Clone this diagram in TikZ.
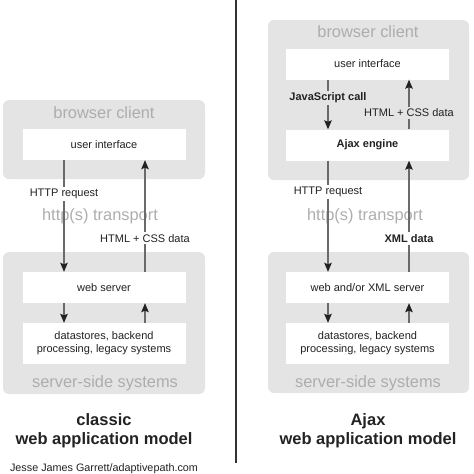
\documentclass[tikz,border=0pt]{standalone}
\usepackage{fontspec}
\setmainfont{Liberation Sans}
\usepackage{xcolor}
\usetikzlibrary{calc,positioning,arrows.meta}
\definecolor{color_panel}{HTML}{e4e4e4}
\definecolor{color_title}{HTML}{adadad}
\definecolor{color_line}{HTML}{6a6a6a}
\definecolor{color_text}{HTML}{222222}
\definecolor{color_divider}{HTML}{333333}

\tikzset{
	panel/.style={fill=color_panel, rounded corners=6pt},
	inbox/.style={fill=white, text=color_text, minimum width=163pt, minimum height=31pt, inner sep=0pt, align=center,
		font=\fontsize{11}{13}\selectfont},
	paneltitle/.style={text=color_title, font=\fontsize{16.4}{19}\selectfont, inner sep=0pt},
	flowlabel/.style={fill=white, text=color_text, inner sep=2pt, font=\fontsize{11}{13}\selectfont},
	flow/.style={color_line, line width=1.1pt, -{Stealth[length=9pt,width=7.5pt,inset=1.5pt,color=color_text]}},
	modeltitle/.style={text=color_text, font=\bfseries\fontsize{16.5}{19}\selectfont, align=center, inner sep=0pt}
}

\begin{document}
\begin{tikzpicture}[x=1pt,y=-1pt]
				\useasboundingbox (0, 0) rectangle (474, 474);
				% Divider
				\draw[line width=1.5pt, color_divider] (236, 0) -- (236, 463);
		
				% Classic model: panels
				\fill[panel] (3, 100) rectangle (205, 179);
				\fill[panel] (3, 252) rectangle (205, 394);
				\node[paneltitle] (bcL) at (104, 113) {browser client};
				\node[paneltitle] (ssL) at (105, 383) {server-side systems};
				\node[paneltitle] (trL) at (100, 216) {http(s) transport};
		
				% Classic model: boxes
				\node[inbox] (uiL) at (104, 144.5) {user interface};
				\node[inbox] (wsL) at (104, 287.5) {web server};
				\node[inbox, minimum height=41pt] (dsL) at (104, 343.5) {datastores, backend\\processing, legacy systems};
		
				% Classic model: flows
				\draw[flow] ([xshift=-40pt]uiL.south) -- node[flowlabel, pos=0.3] {HTTP request} ([xshift=-40pt]wsL.north);
				\draw[flow] ([xshift=41pt]wsL.north) -- node[flowlabel, pos=0.3] {HTML + CSS data} ([xshift=41pt]uiL.south);
				\draw[flow] ([xshift=-40pt]wsL.south) -- ([xshift=-40pt]dsL.north);
				\draw[flow] ([xshift=41pt]dsL.north) -- ([xshift=41pt]wsL.south);
		
				\node[modeltitle] (mtL) at (104, 431) {classic\\web application model};
				\node[text=color_text, font=\fontsize{10.8}{13}\selectfont, inner sep=0pt] (credit) at (104, 469) {Jesse James Garrett/adaptivepath.com};
		
				% Ajax model: panels
				\fill[panel] (268, 20) rectangle (469, 180);
				\fill[panel] (268, 252) rectangle (469, 393);
				\node[paneltitle] (bcR) at (368, 32) {browser client};
				\node[paneltitle] (ssR) at (368, 383) {server-side systems};
				\node[paneltitle] (trR) at (365, 216) {http(s) transport};
		
				% Ajax model: boxes
				\node[inbox] (uiR) at (367.5, 64) {user interface};
				\node[inbox] (ae) at (367.5, 145) {\bfseries Ajax engine};
				\node[inbox] (xs) at (367.5, 287.5) {web and/or XML server};
				\node[inbox, minimum height=41pt] (dsR) at (367.5, 343.5) {datastores, backend\\processing, legacy systems};
		
				% Ajax model: flows
				\draw[flow] ([xshift=-39.5pt]uiR.south) -- node[flowlabel, fill=color_panel, pos=0.37, font=\bfseries\fontsize{11}{13}\selectfont] {JavaScript call} ([xshift=-39.5pt]ae.north);
				\draw[flow] ([xshift=41.5pt]ae.north) -- node[flowlabel, fill=color_panel, pos=0.33] {HTML + CSS data} ([xshift=41.5pt]uiR.south);
				\draw[flow] ([xshift=-39.5pt]ae.south) -- node[flowlabel, pos=0.28] {HTTP request} ([xshift=-39.5pt]xs.north);
				\draw[flow] ([xshift=41.5pt]xs.north) -- node[flowlabel, pos=0.3, font=\bfseries\fontsize{11}{13}\selectfont] {XML data} ([xshift=41.5pt]ae.south);
				\draw[flow] ([xshift=-39.5pt]xs.south) -- ([xshift=-39.5pt]dsR.north);
				\draw[flow] ([xshift=41.5pt]dsR.north) -- ([xshift=41.5pt]xs.south);
		
				\node[modeltitle] (mtR) at (368, 431) {Ajax\\web application model};
			\end{tikzpicture}
\end{document}
